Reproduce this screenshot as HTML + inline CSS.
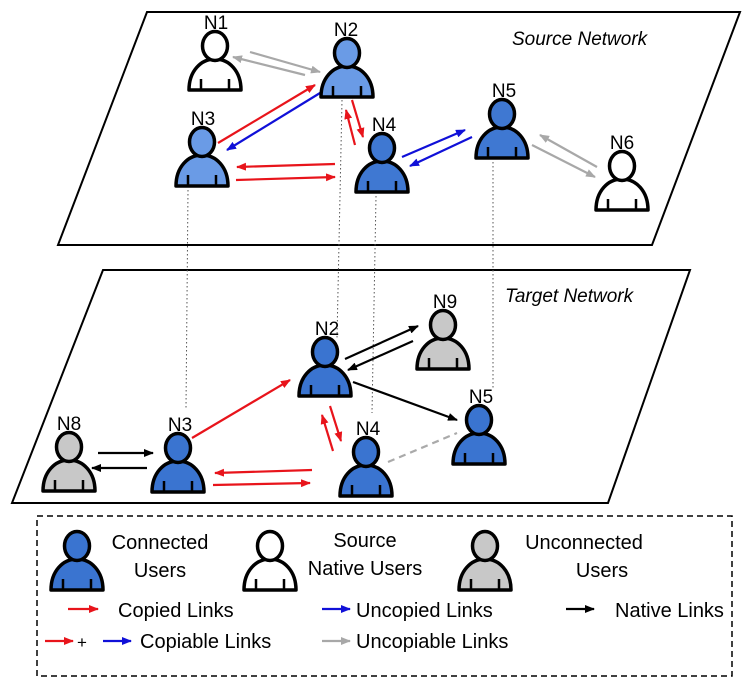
<!DOCTYPE html>
<html><head><meta charset="utf-8"><style>
html,body{margin:0;padding:0;background:#fff;width:752px;height:686px;overflow:hidden}
svg{display:block;font-family:"Liberation Sans",sans-serif}
</style></head><body>
<svg width="752" height="686" viewBox="0 0 752 686" xmlns="http://www.w3.org/2000/svg">
<defs>
<marker id="mr" markerWidth="10" markerHeight="8" refX="9" refY="4" orient="auto" markerUnits="userSpaceOnUse"><path d="M0,0 L10,4 L0,8 Z" fill="#e8141b"/></marker>
<marker id="mb" markerWidth="10" markerHeight="8" refX="9" refY="4" orient="auto" markerUnits="userSpaceOnUse"><path d="M0,0 L10,4 L0,8 Z" fill="#1010d8"/></marker>
<marker id="mk" markerWidth="10" markerHeight="8" refX="9" refY="4" orient="auto" markerUnits="userSpaceOnUse"><path d="M0,0 L10,4 L0,8 Z" fill="#000"/></marker>
<marker id="mg" markerWidth="10" markerHeight="8" refX="9" refY="4" orient="auto" markerUnits="userSpaceOnUse"><path d="M0,0 L10,4 L0,8 Z" fill="#a8a8a8"/></marker>
<g id="p">
<path d="M-26,0 C-26,-19 -14,-31 0,-31 C14,-31 26,-19 26,0 Z" stroke="#000" stroke-width="3.5" stroke-linejoin="round"/>
<ellipse cx="0" cy="-44" rx="12.5" ry="14.5" stroke="#000" stroke-width="3.5"/>
<path d="M-14,-11 V0 M14,-11 V0" stroke="#000" stroke-width="2.5" fill="none"/>
</g>
</defs>

<polygon points="147,12 740,12 652,245 58,245" fill="#fff" stroke="#000" stroke-width="2"/>
<polygon points="103,270 690,270 608,503 12,503" fill="#fff" stroke="#000" stroke-width="2"/>
<text x="512" y="45" font-size="19" font-style="italic">Source Network</text>
<text x="505" y="302" font-size="19" font-style="italic">Target Network</text>

<g stroke="#555" stroke-width="1" stroke-dasharray="1.5,2.5">
<line x1="188" y1="190" x2="186" y2="408"/>
<line x1="342" y1="100" x2="337" y2="338"/>
<line x1="376" y1="196" x2="372" y2="413"/>
<line x1="493" y1="162" x2="493" y2="388"/>
</g>

<g stroke-width="2.2" fill="none">
<line x1="250" y1="52" x2="320" y2="72" stroke="#a8a8a8" marker-end="url(#mg)"/>
<line x1="305" y1="75" x2="233" y2="57" stroke="#a8a8a8" marker-end="url(#mg)"/>
<line x1="218" y1="143" x2="315" y2="85" stroke="#e8141b" marker-end="url(#mr)"/>
<line x1="320" y1="93" x2="227" y2="150" stroke="#1010d8" marker-end="url(#mb)"/>
<line x1="352" y1="100" x2="363" y2="137" stroke="#e8141b" marker-end="url(#mr)"/>
<line x1="355" y1="145" x2="346" y2="110" stroke="#e8141b" marker-end="url(#mr)"/>
<line x1="335" y1="164" x2="237" y2="167" stroke="#e8141b" marker-end="url(#mr)"/>
<line x1="236" y1="180" x2="335" y2="177" stroke="#e8141b" marker-end="url(#mr)"/>
<line x1="402" y1="157" x2="465" y2="130" stroke="#1010d8" marker-end="url(#mb)"/>
<line x1="472" y1="137" x2="410" y2="166" stroke="#1010d8" marker-end="url(#mb)"/>
<line x1="597" y1="167" x2="540" y2="135" stroke="#a8a8a8" marker-end="url(#mg)"/>
<line x1="532" y1="145" x2="595" y2="177" stroke="#a8a8a8" marker-end="url(#mg)"/>
</g>

<g stroke-width="2.2" fill="none">
<line x1="345" y1="359" x2="418" y2="326" stroke="#000" marker-end="url(#mk)"/>
<line x1="413" y1="341" x2="348" y2="370" stroke="#000" marker-end="url(#mk)"/>
<line x1="353" y1="382" x2="457" y2="420" stroke="#000" marker-end="url(#mk)"/>
<line x1="192" y1="438" x2="290" y2="380" stroke="#e8141b" marker-end="url(#mr)"/>
<line x1="330" y1="406" x2="341" y2="441" stroke="#e8141b" marker-end="url(#mr)"/>
<line x1="333" y1="451" x2="322" y2="415" stroke="#e8141b" marker-end="url(#mr)"/>
<line x1="312" y1="470" x2="215" y2="473" stroke="#e8141b" marker-end="url(#mr)"/>
<line x1="213" y1="485" x2="310" y2="483" stroke="#e8141b" marker-end="url(#mr)"/>
<line x1="98" y1="453" x2="153" y2="453" stroke="#000" marker-end="url(#mk)"/>
<line x1="147" y1="468" x2="92" y2="468" stroke="#000" marker-end="url(#mk)"/>
<line x1="388" y1="462" x2="457" y2="433" stroke="#aaa" stroke-dasharray="7,5"/>
</g>

<g font-size="19" text-anchor="middle">
<use href="#p" x="215" y="90" fill="#fff"/><text x="216" y="29">N1</text>
<use href="#p" x="347" y="97" fill="#6a9be6"/><text x="346" y="36">N2</text>
<use href="#p" x="202" y="186" fill="#6a9be6"/><text x="203" y="125">N3</text>
<use href="#p" x="382" y="192" fill="#3f78d2"/><text x="384" y="131">N4</text>
<use href="#p" x="502" y="158" fill="#3f78d2"/><text x="504" y="97">N5</text>
<use href="#p" x="622" y="210" fill="#fff"/><text x="622" y="149">N6</text>

<use href="#p" x="325" y="396" fill="#3a74d0"/><text x="327" y="335">N2</text>
<use href="#p" x="443" y="369" fill="#c8c8c8"/><text x="445" y="308">N9</text>
<use href="#p" x="479" y="464" fill="#3a74d0"/><text x="481" y="403">N5</text>
<use href="#p" x="69" y="491" fill="#c8c8c8"/><text x="69" y="430">N8</text>
<use href="#p" x="178" y="492" fill="#3a74d0"/><text x="180" y="431">N3</text>
<use href="#p" x="366" y="496" fill="#3a74d0"/><text x="368" y="435">N4</text>
</g>

<rect x="37" y="516" width="695" height="160" fill="none" stroke="#000" stroke-width="1.5" stroke-dasharray="6,4"/>
<use href="#p" x="77" y="590" fill="#3a74d0"/>
<use href="#p" x="270" y="590" fill="#fff"/>
<use href="#p" x="485" y="590" fill="#c8c8c8"/>
<g font-size="20" text-anchor="middle">
<text x="160" y="549">Connected</text><text x="160" y="577">Users</text>
<text x="365" y="547">Source</text><text x="365" y="575">Native Users</text>
<text x="584" y="549">Unconnected</text><text x="602" y="577">Users</text>
</g>
<g stroke-width="2.2">
<line x1="68" y1="609" x2="98" y2="609" stroke="#e8141b" marker-end="url(#mr)"/>
<line x1="322" y1="609" x2="350" y2="609" stroke="#1010d8" marker-end="url(#mb)"/>
<line x1="566" y1="609" x2="594" y2="609" stroke="#000" marker-end="url(#mk)"/>
<line x1="45" y1="641" x2="73" y2="641" stroke="#e8141b" marker-end="url(#mr)"/>
<line x1="103" y1="641" x2="131" y2="641" stroke="#1010d8" marker-end="url(#mb)"/>
<line x1="322" y1="641" x2="350" y2="641" stroke="#a8a8a8" marker-end="url(#mg)"/>
</g>
<g font-size="20">
<text x="118" y="617">Copied Links</text>
<text x="356" y="617">Uncopied Links</text>
<text x="615" y="617">Native Links</text>
<text x="77" y="648" font-size="17">+</text>
<text x="140" y="648">Copiable Links</text>
<text x="356" y="648">Uncopiable Links</text>
</g>
</svg>
</body></html>
